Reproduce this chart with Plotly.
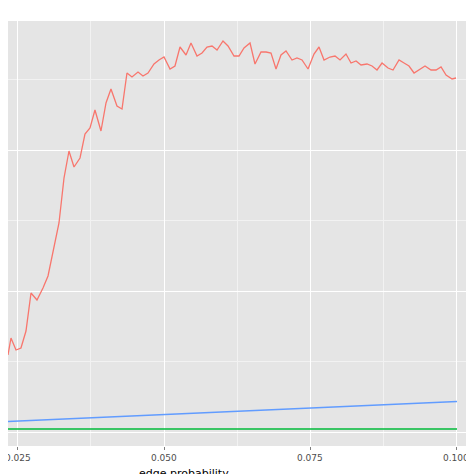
import plotly.graph_objects as go

def px2x(p):
    return round(0.025 + (p - 10) / 146 * 0.025, 5)

red_px_x = [0, 3, 8, 13, 18, 23, 29, 35, 40, 46, 51, 56, 61, 66, 72, 77, 82, 87, 93, 98, 103, 109, 114, 119,
            124, 130, 135, 140, 146, 151, 156, 162, 167, 172, 178, 183, 189, 194, 199, 204, 209, 215, 220,
            226, 231, 236, 242, 247, 253, 258, 263, 268, 273, 278, 284, 289, 294, 300, 306, 311, 316, 322,
            327, 332, 338, 343, 348, 353, 359, 364, 369, 374, 380, 385, 391, 396, 401, 406, 412, 417, 423,
            428, 433, 438, 444, 448]
red_px_y = [347, 330, 342, 340, 323, 285, 292, 280, 268, 240, 215, 170, 143, 159, 150, 126, 120, 102, 123, 95,
            81, 98, 101, 65, 69, 64, 68, 65, 56, 52, 49, 61, 58, 39, 47, 35, 48, 45, 39, 38, 42, 33, 38,
            48, 48, 40, 35, 56, 44, 44, 45, 61, 47, 43, 52, 50, 52, 61, 46, 39, 52, 49, 48, 52, 46, 55,
            53, 57, 56, 58, 62, 55, 60, 62, 52, 55, 58, 65, 61, 58, 62, 62, 59, 67, 71, 70]
blue_px_x = [0, 100, 200, 300, 400, 449]
blue_px_y = [413.5, 409, 404.5, 400, 395.5, 393.5]
green_px_x = [0, 449]
green_px_y = [421, 421]
tick_vals = [0.025, 0.05, 0.075, 0.1]
tick_text = ["0.025", "0.050", "0.075", "0.100"]

red_x = [px2x(p) for p in red_px_x]
red_y = [438 - p for p in red_px_y]
blue_x = [px2x(p) for p in blue_px_x]
blue_y = [438 - p for p in blue_px_y]
green_x = [px2x(p) for p in green_px_x]
green_y = [438 - p for p in green_px_y]

fig = go.Figure()
fig.add_trace(go.Scatter(x=green_x, y=green_y, mode="lines", line=dict(color="#00BA38", width=1.3)))
fig.add_trace(go.Scatter(x=blue_x, y=blue_y, mode="lines", line=dict(color="#619CFF", width=1.3)))
fig.add_trace(go.Scatter(x=red_x, y=red_y, mode="lines", line=dict(color="#F8766D", width=1.3)))

tickfont = dict(family="DejaVu Sans", size=9, color="#4D4D4D")
anns = [dict(text=t, x=v, xref="x", y=-0.012, yref="paper", yanchor="top", showarrow=False,
             font=tickfont) for v, t in zip(tick_vals, tick_text)]
anns.append(dict(text="edge probability", x=0.0535, xref="x", y=-0.045, yref="paper", yanchor="top",
                 showarrow=False, font=dict(family="DejaVu Sans", size=11, color="black")))

fig.update_layout(
    width=474, height=474, showlegend=False,
    margin=dict(l=0, r=14, t=13, b=36, autoexpand=False),
    paper_bgcolor="white", plot_bgcolor="#E5E5E5",
    xaxis=dict(range=[px2x(0), px2x(460)], tickvals=tick_vals, showticklabels=False, automargin=False,
               showgrid=True, gridcolor="white", gridwidth=1.3, zeroline=False,
               ticks="outside", ticklen=3, tickcolor="#7F7F7F",
               minor=dict(tickvals=[0.0375, 0.0625, 0.0875], showgrid=True, gridcolor="#F2F2F2", gridwidth=0.6)),
    yaxis=dict(range=[0, 425], tickvals=[14, 155, 296], showticklabels=False, automargin=False, showgrid=True,
               gridcolor="white", gridwidth=1.3, zeroline=False,
               minor=dict(tickvals=[84.5, 225.5, 366.5], showgrid=True, gridcolor="#F2F2F2", gridwidth=0.6)),
    annotations=anns,
)
fig.write_html("out.html")
